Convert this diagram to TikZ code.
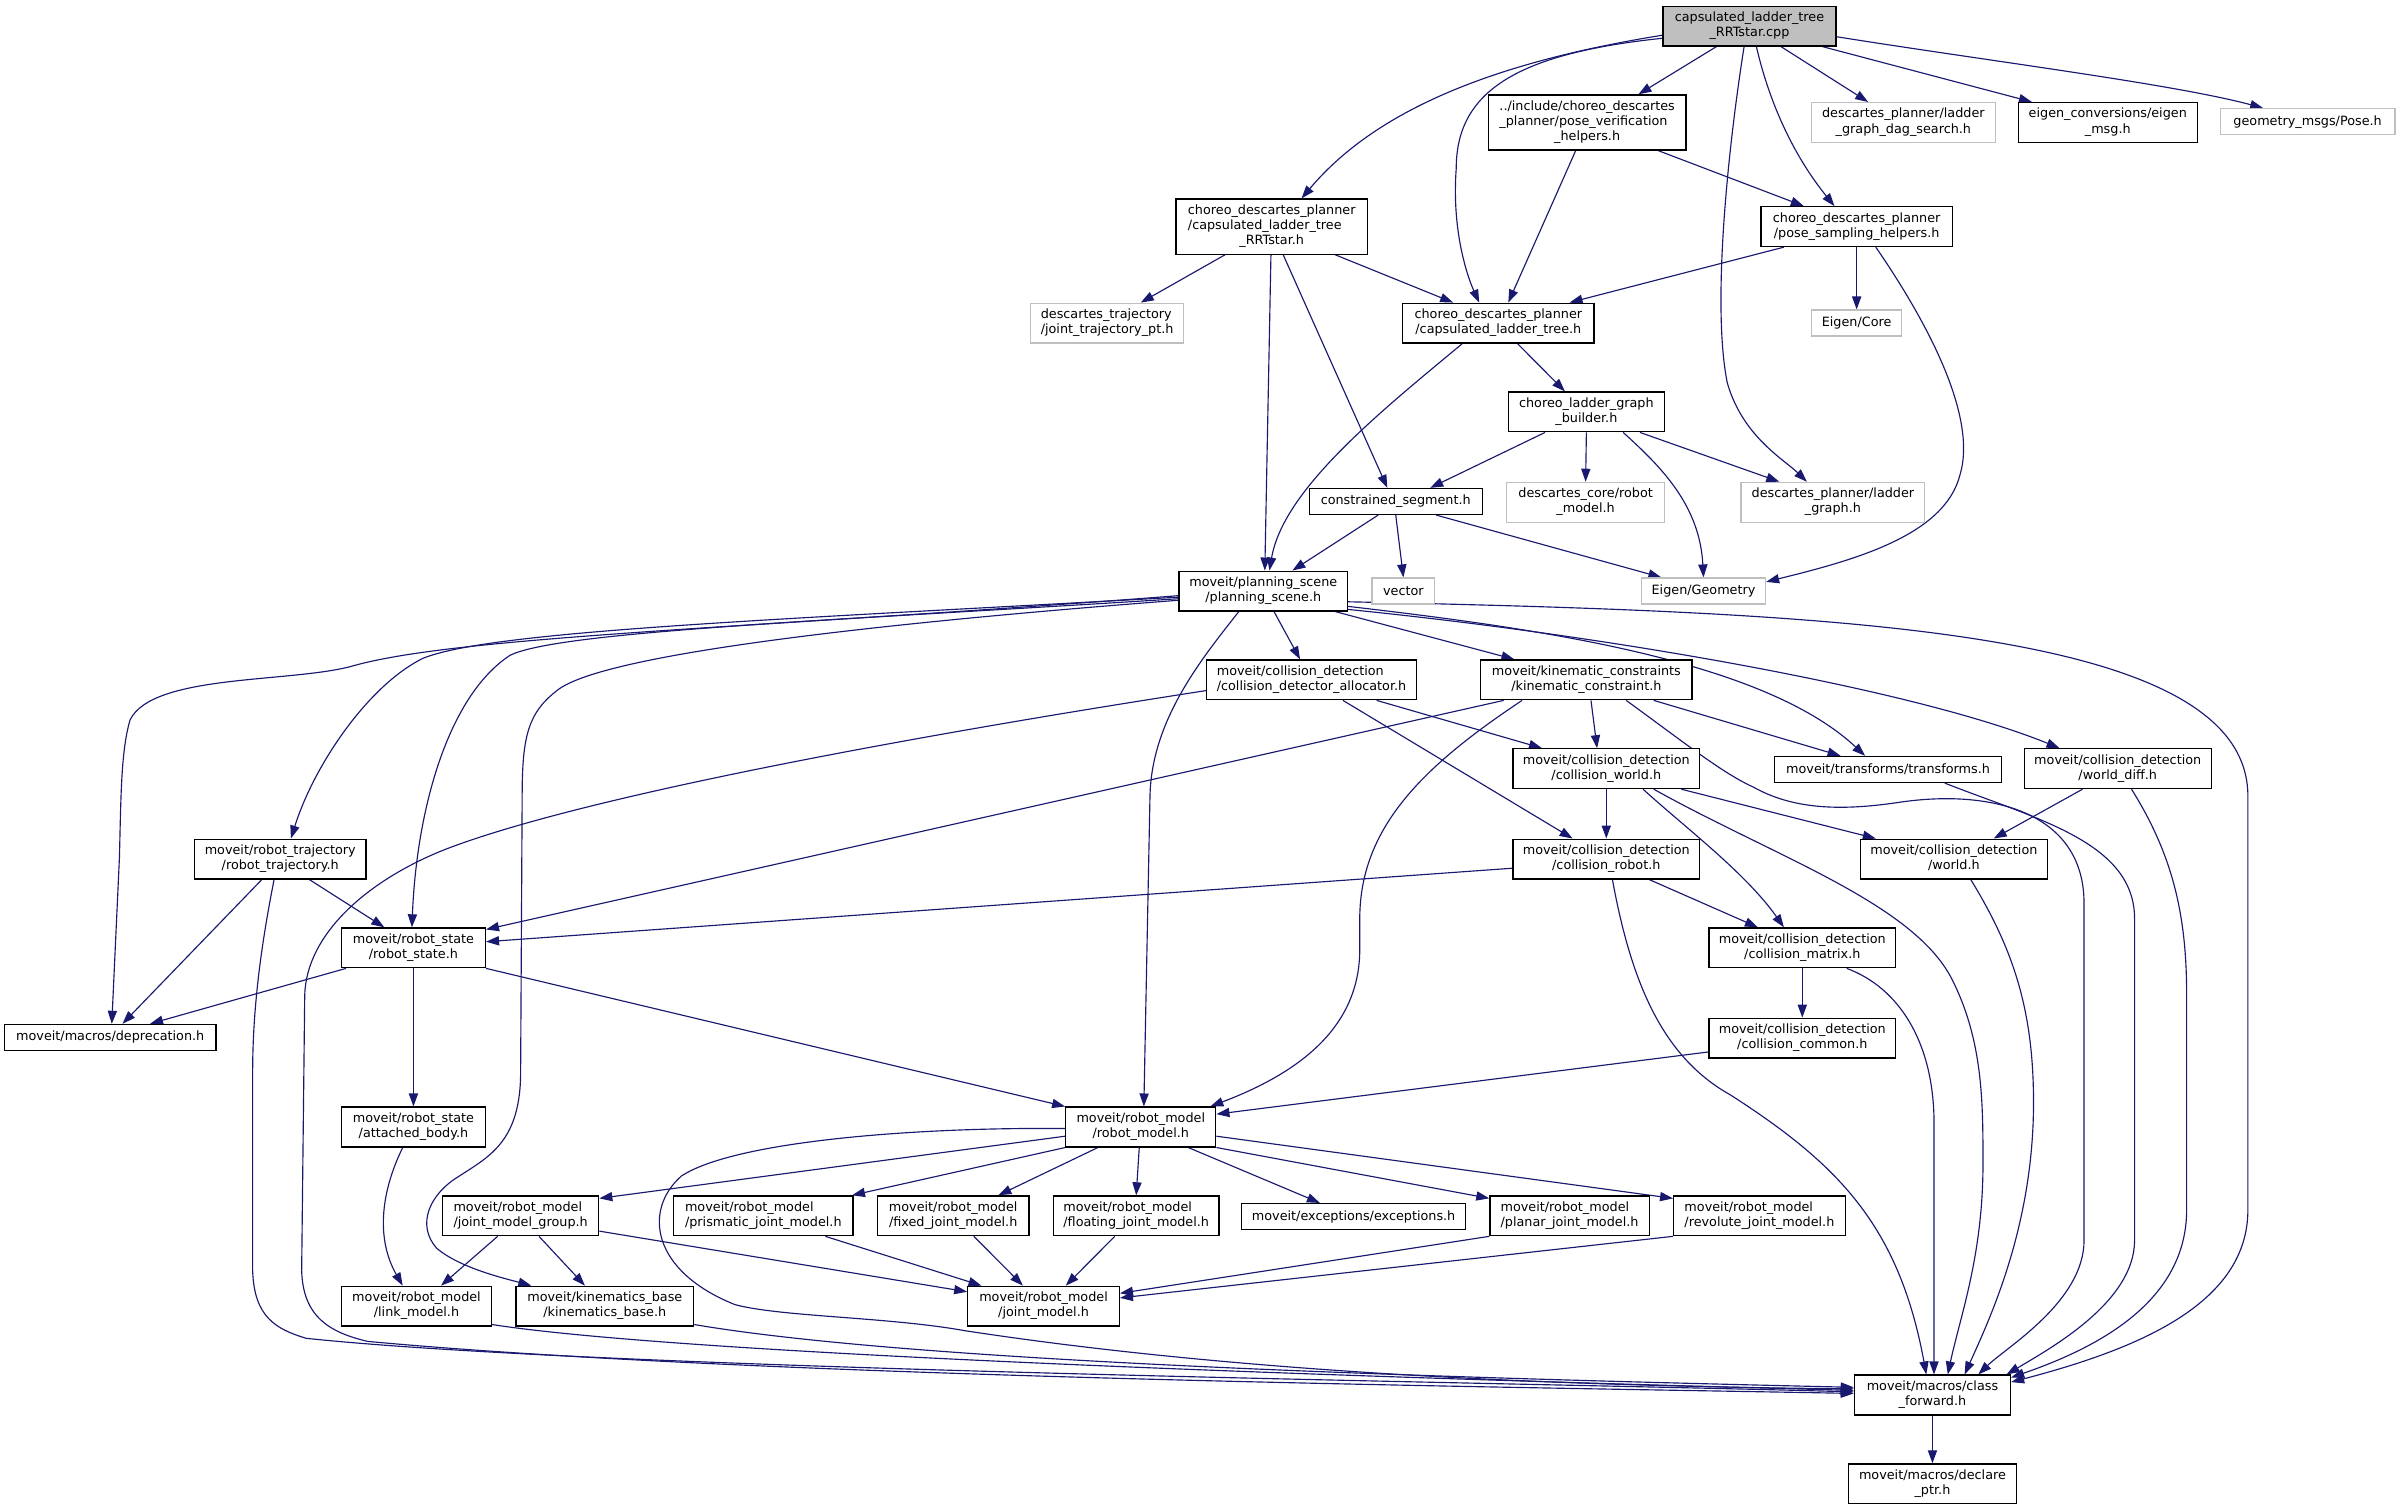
\documentclass[tikz,border=0pt]{standalone}
\usepackage{fontspec}
\setmainfont{DejaVu Sans}
\usetikzlibrary{arrows.meta}
\definecolor{edgeblue}{RGB}{25,25,112}
\definecolor{grayline}{RGB}{191,191,191}
\pgfdeclarelayer{bg}
\pgfsetlayers{bg,main}
\newcommand\lbltwo[2]{\begin{tabular}{@{}l@{}}#1\\\multicolumn{1}{@{}c@{}}{#2}\end{tabular}}
\newcommand\lblthree[3]{\begin{tabular}{@{}l@{}}#1\\#2\\\multicolumn{1}{@{}c@{}}{#3}\end{tabular}}
\tikzset{
  box/.style={draw=black, line width=0.8pt, fill=white, inner sep=0pt,
    font=\fontsize{8.35pt}{9.8pt}\selectfont},
  graybox/.style={box, draw=grayline},
  dep/.style={draw=edgeblue, line width=0.75pt, -{Triangle[length=8.5pt,width=6pt]}},
}
\begin{document}
\begin{tikzpicture}[x=1pt,y=-1pt]
\useasboundingbox (0,0) rectangle (1568,987);
% nodes
\node[box, fill=grayline, minimum width=113pt, minimum height=26pt] (cpp) at (1142.5,17) {\lbltwo{capsulated\_ladder\_tree}{\_RRTstar.cpp}};
\node[box, minimum width=129pt, minimum height=36pt] (poseverif) at (1036.5,80) {\lblthree{../include/choreo\_descartes}{\_planner/pose\_verification}{\_helpers.h}};
\node[graybox, minimum width=120pt, minimum height=26pt] (ddagsearch) at (1243,80) {\lbltwo{descartes\_planner/ladder}{\_graph\_dag\_search.h}};
\node[box, minimum width=117pt, minimum height=26pt] (eigenconv) at (1376.5,80) {\lbltwo{eigen\_conversions/eigen}{\_msg.h}};
\node[graybox, minimum width=114pt, minimum height=17pt] (posemsg) at (1507,79.5) {geometry\_msgs/Pose.h};
\node[box, minimum width=125pt, minimum height=36pt] (rrtstarh) at (830.5,148) {\lblthree{choreo\_descartes\_planner}{/capsulated\_ladder\_tree}{\_RRTstar.h}};
\node[box, minimum width=125pt, minimum height=26pt] (posesamp) at (1212.5,148) {\lbltwo{choreo\_descartes\_planner}{/pose\_sampling\_helpers.h}};
\node[graybox, minimum width=100pt, minimum height=26pt] (jtpt) at (723,211) {\lbltwo{descartes\_trajectory}{/joint\_trajectory\_pt.h}};
\node[box, minimum width=125pt, minimum height=26pt] (cltree) at (978.5,211) {\lbltwo{choreo\_descartes\_planner}{/capsulated\_ladder\_tree.h}};
\node[graybox, minimum width=59pt, minimum height=17pt] (eigencore) at (1212.5,211) {Eigen/Core};
\node[box, minimum width=102pt, minimum height=26pt] (builder) at (1036,269) {\lbltwo{choreo\_ladder\_graph}{\_builder.h}};
\node[box, minimum width=113pt, minimum height=17pt] (constseg) at (911.5,327.5) {constrained\_segment.h};
\node[graybox, minimum width=103pt, minimum height=26pt] (dcorerm) at (1035.5,328) {\lbltwo{descartes\_core/robot}{\_model.h}};
\node[graybox, minimum width=120pt, minimum height=26pt] (ladgraph) at (1197,328) {\lbltwo{descartes\_planner/ladder}{\_graph.h}};
\node[graybox, minimum width=41pt, minimum height=17pt] (vector) at (916.5,386) {vector};
\node[graybox, minimum width=81pt, minimum height=17pt] (eigengeo) at (1112.5,386) {Eigen/Geometry};
\node[box, minimum width=110pt, minimum height=26pt] (planscene) at (825,386) {\lbltwo{moveit/planning\_scene}{/planning\_scene.h}};
\node[box, minimum width=137pt, minimum height=26pt] (cdalloc) at (856.5,444) {\lbltwo{moveit/collision\_detection}{/collision\_detector\_allocator.h}};
\node[box, minimum width=138pt, minimum height=26pt] (kinconst) at (1036,444) {\lbltwo{moveit/kinematic\_constraints}{/kinematic\_constraint.h}};
\node[box, minimum width=122pt, minimum height=26pt] (cworld) at (1049,502) {\lbltwo{moveit/collision\_detection}{/collision\_world.h}};
\node[box, minimum width=148pt, minimum height=17pt] (transforms) at (1233,502.5) {moveit/transforms/transforms.h};
\node[box, minimum width=122pt, minimum height=26pt] (worlddiff) at (1383,502) {\lbltwo{moveit/collision\_detection}{/world\_diff.h}};
\node[box, minimum width=112pt, minimum height=26pt] (rtraj) at (183,561) {\lbltwo{moveit/robot\_trajectory}{/robot\_trajectory.h}};
\node[box, minimum width=122pt, minimum height=26pt] (crobot) at (1049,561) {\lbltwo{moveit/collision\_detection}{/collision\_robot.h}};
\node[box, minimum width=122pt, minimum height=26pt] (world) at (1276,561) {\lbltwo{moveit/collision\_detection}{/world.h}};
\node[box, minimum width=94pt, minimum height=26pt] (rstate) at (270,619) {\lbltwo{moveit/robot\_state}{/robot\_state.h}};
\node[box, minimum width=122pt, minimum height=26pt] (cmatrix) at (1177,619) {\lbltwo{moveit/collision\_detection}{/collision\_matrix.h}};
\node[box, minimum width=138pt, minimum height=17pt] (deprec) at (72,677.5) {moveit/macros/deprecation.h};
\node[box, minimum width=122pt, minimum height=26pt] (ccommon) at (1177,678) {\lbltwo{moveit/collision\_detection}{/collision\_common.h}};
\node[box, minimum width=94pt, minimum height=26pt] (attbody) at (270,736) {\lbltwo{moveit/robot\_state}{/attached\_body.h}};
\node[box, minimum width=98pt, minimum height=26pt] (robotmodel) at (745,736) {\lbltwo{moveit/robot\_model}{/robot\_model.h}};
\node[box, minimum width=102pt, minimum height=26pt] (jmg) at (340,794) {\lbltwo{moveit/robot\_model}{/joint\_model\_group.h}};
\node[box, minimum width=117pt, minimum height=26pt] (prismatic) at (498.5,794) {\lbltwo{moveit/robot\_model}{/prismatic\_joint\_model.h}};
\node[box, minimum width=99pt, minimum height=26pt] (fixed) at (622.5,794) {\lbltwo{moveit/robot\_model}{/fixed\_joint\_model.h}};
\node[box, minimum width=108pt, minimum height=26pt] (floating) at (742,794) {\lbltwo{moveit/robot\_model}{/floating\_joint\_model.h}};
\node[box, minimum width=146pt, minimum height=17pt] (exceptions) at (884,794.5) {moveit/exceptions/exceptions.h};
\node[box, minimum width=104pt, minimum height=26pt] (planar) at (1025,794) {\lbltwo{moveit/robot\_model}{/planar\_joint\_model.h}};
\node[box, minimum width=112pt, minimum height=26pt] (revolute) at (1149,794) {\lbltwo{moveit/robot\_model}{/revolute\_joint\_model.h}};
\node[box, minimum width=98pt, minimum height=26pt] (linkmodel) at (272,853) {\lbltwo{moveit/robot\_model}{/link\_model.h}};
\node[box, minimum width=116pt, minimum height=26pt] (kinbase) at (395,853) {\lbltwo{moveit/kinematics\_base}{/kinematics\_base.h}};
\node[box, minimum width=99pt, minimum height=26pt] (jointmodel) at (681.5,853) {\lbltwo{moveit/robot\_model}{/joint\_model.h}};
\node[box, minimum width=102pt, minimum height=26pt] (classfwd) at (1262,911) {\lbltwo{moveit/macros/class}{\_forward.h}};
\node[box, minimum width=110pt, minimum height=26pt] (declptr) at (1262,969) {\lbltwo{moveit/macros/declare}{\_ptr.h}};
% edges
\begin{pgfonlayer}{bg}
\draw[dep] ([yshift=-6pt]cpp.west) .. controls (980,40) and (900,70) .. ([xshift=19.5pt]rrtstarh.north);
\draw[dep] ([yshift=-8pt]cpp.west) .. controls (990,35) and (951,60) .. (951,110) .. controls (948,150) and (958,180) .. ([xshift=-12.5pt]cltree.north);
\draw[dep] ([xshift=-21.5pt]cpp.south) -- ([xshift=33.5pt]poseverif.north);
\draw[dep] ([xshift=20.5pt]cpp.south) -- ([xshift=-23pt]ddagsearch.north);
\draw[dep] ([xshift=47.5pt]cpp.south) -- ([xshift=-49.5pt]eigenconv.north);
\draw[dep] ([yshift=-7pt]cpp.east) .. controls (1300,40) and (1420,55) .. ([xshift=-29pt]posemsg.north);
\draw[dep] ([xshift=4.5pt]cpp.south) .. controls (1155,65) and (1170,100) .. ([xshift=-14.5pt]posesamp.north);
\draw[dep] ([xshift=-3.5pt]cpp.south) .. controls (1128,100) and (1118,200) .. (1128,250) .. controls (1138,285) and (1165,300) .. ([xshift=-17pt]ladgraph.north);
\draw[dep] ([xshift=-7.5pt]poseverif.south) -- ([xshift=6.5pt]cltree.north);
\draw[dep] ([xshift=46.5pt]poseverif.south) -- ([xshift=-34.5pt]posesamp.north);
\draw[dep] ([xshift=-30.5pt]rrtstarh.south) -- ([xshift=22pt]jtpt.north);
\draw[dep] ([xshift=41.5pt]rrtstarh.south) -- ([xshift=-29.5pt]cltree.north);
\draw[dep] ([xshift=7.5pt]rrtstarh.south) -- ([xshift=-5.5pt]constseg.north);
\draw[dep] ([xshift=-0.5pt]rrtstarh.south) -- ([xshift=1pt]planscene.north);
\draw[dep] ([xshift=-47.5pt]posesamp.south) -- ([xshift=46.5pt]cltree.north);
\draw[dep] (posesamp.south) -- (eigencore.north);
\draw[dep] ([xshift=12.5pt]posesamp.south) .. controls (1255,205) and (1292,270) .. (1280,310) .. controls (1270,350) and (1210,366) .. ([yshift=6pt]eigengeo.east);
\draw[dep] ([xshift=12.5pt]cltree.south) -- ([xshift=-14pt]builder.north);
\draw[dep] ([xshift=-23.5pt]cltree.south) .. controls (900,270) and (838,320) .. ([xshift=4pt]planscene.north);
\draw[dep] ([xshift=-27pt]builder.south) -- ([xshift=22.5pt]constseg.north);
\draw[dep] (builder.south) -- (dcorerm.north);
\draw[dep] ([xshift=35pt]builder.south) -- ([xshift=-35pt]ladgraph.north);
\draw[dep] ([xshift=24pt]builder.south) .. controls (1085,305) and (1110,330) .. (eigengeo.north);
\draw[dep] ([xshift=-11.5pt]constseg.south) -- ([xshift=19pt]planscene.north);
\draw[dep] (constseg.south) -- (vector.north);
\draw[dep] ([xshift=26.5pt]constseg.south) -- ([xshift=-27.5pt]eigengeo.north);
% planning scene
\draw[dep] ([yshift=-3pt]planscene.west) .. controls (500,410) and (300,415) .. (230,435) .. controls (190,446) and (100,440) .. (85,470) .. controls (79,490) and (79,520) .. (78,560) -- ([xshift=1pt]deprec.north);
\draw[dep] ([yshift=-4pt]planscene.west) .. controls (500,405) and (320,412) .. (276,430) .. controls (240,448) and (205,500) .. ([xshift=7pt]rtraj.north);
\draw[dep] ([yshift=-5pt]planscene.west) .. controls (550,405) and (365,412) .. (333,428) .. controls (292,455) and (272,530) .. ([xshift=-1pt]rstate.north);
\draw[dep] ([yshift=-6pt]planscene.west) .. controls (600,405) and (400,425) .. (365,450) .. controls (345,465) and (341,480) .. (341,520) -- (340,700) .. controls (340,745) and (320,755) .. (300,768) .. controls (280,780) and (272,800) .. (285,815) .. controls (300,828) and (330,835) .. ([xshift=-48pt]kinbase.north);
\draw[dep] ([xshift=-16pt]planscene.south) .. controls (785,430) and (752,470) .. (751,520) -- ([xshift=2pt]robotmodel.north);
\draw[dep] ([xshift=7pt]planscene.south) -- ([xshift=-7.5pt]cdalloc.north);
\draw[dep] ([xshift=47pt]planscene.south) -- ([xshift=-47pt]kinconst.north);
\draw[dep] ([yshift=-10pt]planscene.east) .. controls (1000,410) and (1150,430) .. ([xshift=-15pt]transforms.north);
\draw[dep] ([yshift=-12pt]planscene.east) .. controls (1050,415) and (1250,450) .. ([xshift=-38pt]worlddiff.north);
\draw[dep] ([yshift=-7pt]planscene.east) .. controls (1200,400) and (1468,410) .. (1468,520) -- (1468,790) .. controls (1468,850) and (1400,880) .. ([yshift=-5pt]classfwd.north east);
% collision detector allocator
\draw[dep] ([yshift=-7pt]cdalloc.west) .. controls (600,480) and (380,520) .. (290,555) .. controls (240,575) and (200,610) .. (199,650) -- (197,830) .. controls (198,860) and (215,870) .. (240,876) .. controls (500,900) and (1000,906) .. ([yshift=1pt]classfwd.west);
\draw[dep] ([xshift=42.5pt]cdalloc.south) -- ([xshift=-42pt]cworld.north);
\draw[dep] ([xshift=20.5pt]cdalloc.south) -- ([xshift=-22pt]crobot.north);
% kinematic constraint
\draw[dep] ([xshift=-54pt]kinconst.south) -- ([yshift=12pt]rstate.east);
\draw[dep] ([xshift=-42pt]kinconst.south) .. controls (930,500) and (888,540) .. (888,600) -- (888,620) .. controls (888,670) and (850,700) .. ([xshift=-4pt]robotmodel.north east);
\draw[dep] ([xshift=3pt]kinconst.south) -- ([xshift=-6pt]cworld.north);
\draw[dep] ([xshift=44pt]kinconst.south) -- ([xshift=-31pt]transforms.north);
\draw[dep] ([xshift=26pt]kinconst.south) .. controls (1100,485) and (1125,505) .. (1145,514) .. controls (1170,528) and (1200,530) .. (1240,524) .. controls (1300,515) and (1361,530) .. (1361,590) -- (1361,810) .. controls (1361,850) and (1310,880) .. ([xshift=30pt]classfwd.north);
% collision world
\draw[dep] (cworld.south) -- (crobot.north);
\draw[dep] ([xshift=49pt]cworld.south) -- ([xshift=-51pt]world.north);
\draw[dep] ([xshift=24pt]cworld.south) .. controls (1100,540) and (1140,570) .. ([xshift=-12pt]cmatrix.north);
\draw[dep] ([xshift=31pt]cworld.south) .. controls (1160,560) and (1250,590) .. (1275,640) .. controls (1295,680) and (1295,720) .. (1295,760) .. controls (1295,820) and (1280,860) .. ([xshift=10pt]classfwd.north);
% transforms, world diff
\draw[dep] ([xshift=37pt]transforms.south) .. controls (1330,535) and (1394,550) .. (1394,600) -- (1394,810) .. controls (1394,850) and (1340,880) .. ([xshift=-3pt]classfwd.north east);
\draw[dep] ([xshift=-23pt]worlddiff.south) -- ([xshift=26pt]world.north);
\draw[dep] ([xshift=9pt]worlddiff.south) .. controls (1420,560) and (1428,600) .. (1428,650) -- (1428,790) .. controls (1428,850) and (1370,880) .. ([yshift=-2pt]classfwd.north east);
% collision robot
\draw[dep] ([yshift=-6pt]crobot.west) -- ([yshift=4pt]rstate.east);
\draw[dep] ([xshift=28pt]crobot.south) -- ([xshift=-29pt]cmatrix.north);
\draw[dep] ([xshift=4pt]crobot.south) .. controls (1065,640) and (1085,690) .. (1130,715) .. controls (1200,760) and (1240,800) .. ([xshift=-4pt]classfwd.north);
\draw[dep] ([xshift=11pt]world.south) .. controls (1315,620) and (1328,660) .. (1328,720) .. controls (1328,800) and (1300,860) .. ([xshift=21pt]classfwd.north);
% robot trajectory
\draw[dep] ([xshift=19pt]rtraj.south) -- ([xshift=-19pt]rstate.north);
\draw[dep] ([xshift=-12pt]rtraj.south) -- ([xshift=8pt]deprec.north);
\draw[dep] ([xshift=-4pt]rtraj.south) .. controls (170,620) and (165,660) .. (165,700) -- (165,830) .. controls (166,860) and (180,868) .. (200,874) .. controls (400,895) and (1000,903) .. ([yshift=2pt]classfwd.west);
% robot state
\draw[dep] ([xshift=-44pt]rstate.south) -- ([xshift=26pt]deprec.north);
\draw[dep] (rstate.south) -- (attbody.north);
\draw[dep] (rstate.south east) -- (robotmodel.north west);
% collision matrix / common
\draw[dep] (cmatrix.south) -- (ccommon.north);
\draw[dep] ([xshift=29pt]cmatrix.south) .. controls (1240,645) and (1262,680) .. (1263,730) -- ([xshift=1pt]classfwd.north);
\draw[dep] ([yshift=-9pt]ccommon.west) -- ([yshift=-5pt]robotmodel.north east);
\draw[dep] ([xshift=-7pt]attbody.south) .. controls (248,780) and (246,810) .. ([xshift=-9pt]linkmodel.north);
% robot model
\draw[dep] ([yshift=-6pt]robotmodel.west) -- ([yshift=-2pt]jmg.north east);
\draw[dep] (robotmodel.south west) -- ([xshift=-1pt]prismatic.north east);
\draw[dep] ([xshift=-28pt]robotmodel.south) -- ([xshift=29.5pt]fixed.north);
\draw[dep] ([xshift=-1pt]robotmodel.south) -- (floating.north);
\draw[dep] ([xshift=31pt]robotmodel.south) -- ([xshift=-22pt]exceptions.north);
\draw[dep] (robotmodel.south east) -- ([yshift=-2pt]planar.north west);
\draw[dep] ([yshift=-6pt]robotmodel.east) -- ([yshift=-2pt]revolute.north west);
\draw[dep] ([yshift=-1pt]robotmodel.west) .. controls (600,736) and (480,745) .. (445,768) .. controls (420,790) and (425,830) .. (480,852) .. controls (510,860) and (580,860) .. (630,869) .. controls (800,895) and (1000,905) .. ([yshift=4pt]classfwd.west);
% joint model group etc.
\draw[dep] ([xshift=-15pt]jmg.south) -- ([xshift=16pt]linkmodel.north);
\draw[dep] ([xshift=12pt]jmg.south) -- ([xshift=-13pt]kinbase.north);
\draw[dep] ([yshift=-10pt]jmg.east) -- ([yshift=-4pt]jointmodel.north west);
\draw[dep] ([xshift=40.5pt]prismatic.south) -- ([xshift=-40.5pt]jointmodel.north);
\draw[dep] ([xshift=13.5pt]fixed.south) -- ([xshift=-13.5pt]jointmodel.north);
\draw[dep] ([xshift=-14pt]floating.south) -- ([xshift=14.5pt]jointmodel.north);
\draw[dep] (planar.south west) -- ([yshift=-5pt]jointmodel.north east);
\draw[dep] (revolute.south west) -- ([yshift=-8pt]jointmodel.north east);
\draw[dep] ([yshift=-12pt]linkmodel.east) .. controls (450,885) and (900,900) .. ([yshift=3pt]classfwd.west);
\draw[dep] ([yshift=-12pt]kinbase.east) .. controls (600,890) and (950,900) .. ([yshift=5pt]classfwd.west);
\draw[dep] (classfwd.south) -- (declptr.north);
\end{pgfonlayer}
\end{tikzpicture}
\end{document}
